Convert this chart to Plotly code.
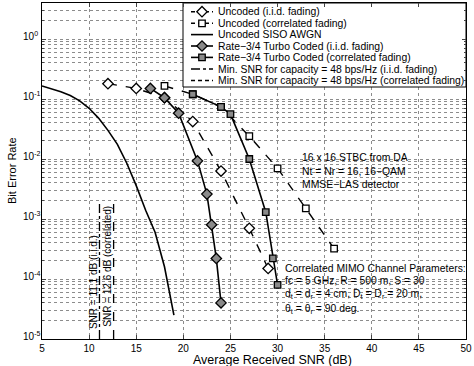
import plotly.graph_objects as go

# ---- data ----
awgn_snr = [5, 6, 7, 8, 9, 10, 11, 12, 13, 14, 15, 16, 17, 18, 19]
awgn_ber = [0.165, 0.148, 0.132, 0.114, 0.093, 0.07, 0.048, 0.03, 0.0175, 0.0085,
            0.0036, 0.0014, 0.0006, 0.00016, 0.000025]

unc_iid_snr = [12, 15, 18, 21, 24, 27, 29]
unc_iid_ber = [0.18, 0.15, 0.105, 0.042, 0.0063, 0.0007, 0.00015]

unc_cor_snr = [18, 21, 24, 27, 30, 33, 36]
unc_cor_ber = [0.165, 0.12, 0.074, 0.024, 0.007, 0.0015, 0.00032]

tc_iid_snr = [16.5, 18, 19.5, 21.5, 22.5, 23, 23.5, 24]
tc_iid_ber = [0.15, 0.105, 0.058, 0.0093, 0.0026, 0.0008, 0.00022, 0.00004]

tc_cor_snr = [21, 24, 25, 27, 28.75, 29.5, 30]
tc_cor_ber = [0.12, 0.074, 0.056, 0.01, 0.0013, 0.00022, 0.00008]

min_snr_iid = 11.1
min_snr_cor = 12.6
vline_ber = [1e-5, 2e-3]

x_ticks = [5, 10, 15, 20, 25, 30, 35, 40, 45, 50]
x_tick_text = ["5", "10", "15", "20", "25", "30", "35", "40", "45", "50"]
y_tick_exp = [-5, -4, -3, -2, -1, 0]
y_tick_vals = [10.0 ** e for e in y_tick_exp]
y_minor_vals = [m * 10.0 ** e for e in range(-5, 1) for m in range(2, 10)]

FONT = "Liberation Sans, Arial, sans-serif"
BLACK = "black"
GRAY_FILL = "#8a8a8a"

# styles per series (name, x, y, line dash, line width, marker symbol, marker fill)
series = [
    ("Uncoded (i.i.d. fading)", unc_iid_snr, unc_iid_ber, "dash", 1.4, "diamond", "white"),
    ("Uncoded (correlated fading)", unc_cor_snr, unc_cor_ber, "dash", 1.4, "square", "white"),
    ("Uncoded SISO AWGN", awgn_snr, awgn_ber, "solid", 1.6, None, None),
    ("Rate\u22123/4 Turbo Coded (i.i.d. fading)", tc_iid_snr, tc_iid_ber, "solid", 1.6, "diamond", GRAY_FILL),
    ("Rate\u22123/4 Turbo Coded (correlated fading)", tc_cor_snr, tc_cor_ber, "solid", 1.6, "square", GRAY_FILL),
    ("Min. SNR for capacity = 48 bps/Hz (i.i.d. fading)", [min_snr_iid, min_snr_iid], vline_ber, "dashdot", 1.3, None, None),
    ("Min. SNR for capacity = 48 bps/Hz (correlated fading)", [min_snr_cor, min_snr_cor], vline_ber, "dash", 1.3, None, None),
]

def msize(sym):
    return 8 if sym == "diamond" else 6.5

fig = go.Figure()

for name, xs, ys, dash, lw, sym, fillc in series:
    if sym:
        fig.add_trace(go.Scatter(
            x=xs, y=ys, name=name, mode="lines+markers",
            line=dict(color=BLACK, width=lw, dash=dash),
            marker=dict(symbol=sym, size=msize(sym), color=fillc,
                        line=dict(color=BLACK, width=1.3))))
    else:
        fig.add_trace(go.Scatter(x=xs, y=ys, name=name, mode="lines",
                                 line=dict(color=BLACK, width=lw, dash=dash)))

# ---- manual legend on an overlay axis measured in pixels ----
L_X0, L_X1, L_Y0, L_Y1 = 183, 466, 3, 87
row_y = [11.7, 23.3, 34.6, 46.0, 57.4, 69.0, 80.5]
fig.add_trace(go.Scatter(x=[L_X0, L_X1, L_X1, L_X0, L_X0], y=[L_Y0, L_Y0, L_Y1, L_Y1, L_Y0],
                         mode="lines", fill="toself", fillcolor="white",
                         line=dict(color=BLACK, width=1), xaxis="x2", yaxis="y2",
                         hoverinfo="skip", showlegend=False))
for (name, xs, ys, dash, lw, sym, fillc), ry in zip(series, row_y):
    fig.add_trace(go.Scatter(x=[191, 213], y=[ry, ry], mode="lines",
                             line=dict(color=BLACK, width=lw, dash=dash if dash != "dash" else "4px,3px"),
                             xaxis="x2", yaxis="y2", hoverinfo="skip", showlegend=False))
    if sym:
        fig.add_trace(go.Scatter(x=[202], y=[ry], mode="markers",
                                 marker=dict(symbol=sym, size=msize(sym), color=fillc,
                                             line=dict(color=BLACK, width=1.3)),
                                 xaxis="x2", yaxis="y2", hoverinfo="skip", showlegend=False))
    fig.add_annotation(xref="x2", yref="y2", x=216, y=ry, text=name, xanchor="left",
                       yanchor="middle", showarrow=False,
                       font=dict(family=FONT, size=10.4, color=BLACK))

ann_font = dict(family=FONT, size=10.4, color=BLACK)
annotations = [
    dict(x=32.4, y=-1.97, text="16 x 16 STBC from DA"),
    dict(x=32.4, y=-2.20, text="Nt = Nr = 16, 16\u2212QAM"),
    dict(x=32.4, y=-2.42, text="MMSE\u2212LAS detector"),
    dict(x=30.6, y=-3.83, text="Correlated MIMO Channel Parameters:"),
    dict(x=30.6, y=-4.03, text="fc = 5 GHz, R = 500 m, S = 30"),
    dict(x=30.6, y=-4.25, text="d<sub>t</sub> = d<sub>r</sub> = 4 cm, D<sub>t</sub> = D<sub>r</sub> = 20 m,"),
    dict(x=30.6, y=-4.50, text="\u03b8<sub>t</sub> = \u03b8<sub>r</sub> = 90 deg."),
]
for a in annotations:
    fig.add_annotation(xref="x", yref="y", xanchor="left", yanchor="middle",
                       showarrow=False, font=ann_font, **a)

fig.add_annotation(xref="x", yref="y", x=10.42, y=-4.05, text="SNR = 11.1 dB (i.i.d.)",
                   textangle=-90, showarrow=False, font=dict(family=FONT, size=10, color=BLACK))
fig.add_annotation(xref="x", yref="y", x=12.0, y=-3.78, text="SNR = 12.6 dB (correlated)",
                   textangle=-90, showarrow=False, font=dict(family=FONT, size=10, color=BLACK))

# y tick labels (annotations so that the "10" sits on the gridline)
for e in y_tick_exp:
    fig.add_annotation(xref="paper", yref="y", x=-21 / 424, y=e, xanchor="left",
                       yanchor="middle", yshift=3, showarrow=False,
                       text="10<sup>%d</sup>" % e,
                       font=dict(family=FONT, size=10, color=BLACK))

# axis titles
fig.add_annotation(xref="paper", yref="paper", x=(272 - 42) / 424, y=-21 / 336,
                   text="Average Received SNR (dB)", showarrow=False, yanchor="middle",
                   font=dict(family=FONT, size=12.5, color=BLACK))
fig.add_annotation(xref="paper", yref="paper", x=-30 / 424, y=0.5, text="Bit Error Rate",
                   textangle=-90, showarrow=False, xanchor="center", yanchor="middle",
                   font=dict(family=FONT, size=11, color=BLACK))

grid = dict(showgrid=True, gridcolor="#8c8c8c", griddash="dot", gridwidth=1)

fig.update_xaxes(range=[5, 50], tickvals=x_ticks, ticktext=x_tick_text, ticks="inside",
                 ticklen=4, showline=True, linecolor=BLACK, linewidth=1, mirror="ticks",
                 zeroline=False, automargin=False,
                 tickfont=dict(family=FONT, size=10, color=BLACK), **grid)
fig.update_yaxes(type="log", range=[-5, 0.6], tickvals=y_tick_vals, showticklabels=False,
                 ticks="inside", ticklen=4, showline=True, linecolor=BLACK, linewidth=1,
                 mirror="ticks", zeroline=False, automargin=False,
                 minor=dict(tickvals=y_minor_vals, ticks="inside", ticklen=2,
                            showgrid=True, gridcolor="#8c8c8c", griddash="dot", gridwidth=1),
                 **grid)

fig.update_layout(
    width=474, height=366,
    margin=dict(l=42, r=8, t=3, b=27),
    paper_bgcolor="white", plot_bgcolor="white",
    font=dict(family=FONT, size=10, color=BLACK),
    showlegend=False,
    hovermode=False,
    xaxis2=dict(overlaying="x", range=[42, 466], visible=False, fixedrange=True),
    yaxis2=dict(overlaying="y", range=[339, 3], visible=False, fixedrange=True),
)

fig.write_html("out.html", config={"displayModeBar": False, "staticPlot": True},
               post_script="document.body.style.margin='0';document.body.style.overflow='hidden';")
